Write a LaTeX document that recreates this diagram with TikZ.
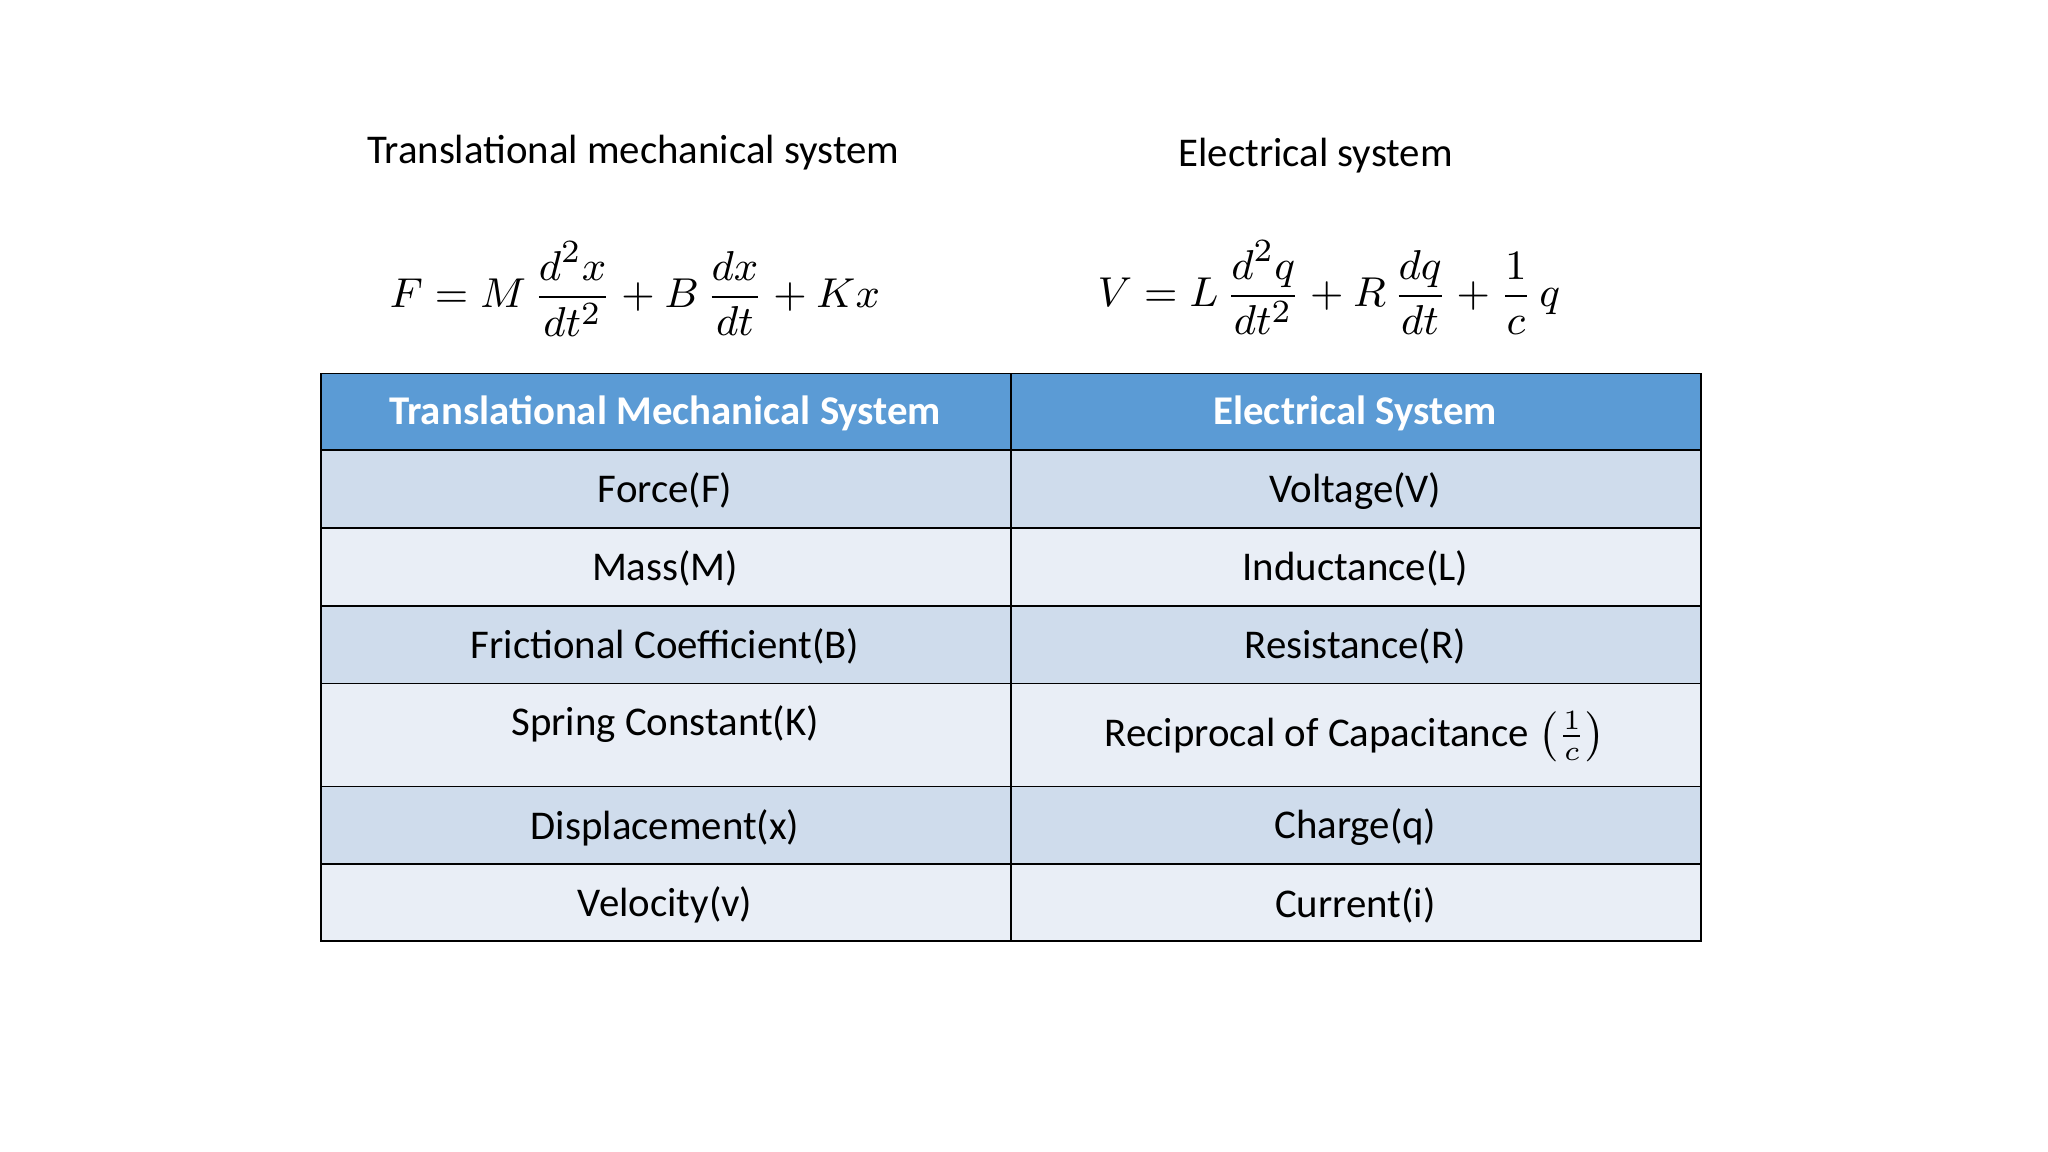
\documentclass[tikz,border=0pt]{standalone}
\usepackage{fontspec}
\setmainfont{Carlito}
\usepackage{amsmath}
\definecolor{hdr}{HTML}{5B9BD5}
\definecolor{rowA}{HTML}{CFDCEC}
\definecolor{rowB}{HTML}{E9EEF6}
\begin{document}
\begin{tikzpicture}[x=0.01cm,y=-0.01cm,
  cell/.style={font=\fontsize{8.8}{10}\selectfont},
  hcell/.style={font=\fontsize{8.8}{10}\selectfont\bfseries,text=white},
  ttl/.style={font=\fontsize{8.8}{10}\selectfont},
  eq/.style={font=\fontsize{9.5}{11}\selectfont}]
\useasboundingbox (0,0) rectangle (1552,873);
\node[ttl] (t1) at (480,116) {Translational mechanical system};
\node[ttl] (t2) at (997,118) {Electrical system};
\node[eq] (e1) at (481,219) {$F = M\,\dfrac{d^2x}{dt^2} + B\,\dfrac{dx}{dt} + Kx$};
\node[eq] (e2) at (1007,218) {$V = L\,\dfrac{d^2q}{dt^2} + R\,\dfrac{dq}{dt} + \dfrac{1}{c}\,q$};
\fill[hdr] (243,283) rectangle (1289,341);
\fill[rowA] (243,341) rectangle (1289,400);
\fill[rowB] (243,400) rectangle (1289,459);
\fill[rowA] (243,459) rectangle (1289,518);
\fill[rowB] (243,518) rectangle (1289,596);
\fill[rowA] (243,596) rectangle (1289,655);
\fill[rowB] (243,655) rectangle (1289,713);
\draw[line width=0.4pt] (243,283) rectangle (1289,713);
\draw[line width=0.4pt] (766,283) -- (766,713);
\foreach \y in {341,400,459,518,596,655} \draw[line width=0.4pt] (243,\y) -- (1289,\y);
\node[hcell] (h1) at (504,313) {Translational Mechanical System};
\node[hcell] (h2) at (1027,313) {Electrical System};
\node[cell] (a1) at (504,372) {Force(F)};
\node[cell] (b1) at (1027,372) {Voltage(V)};
\node[cell] (a2) at (504,431) {Mass(M)};
\node[cell] (b2) at (1027,431) {Inductance(L)};
\node[cell] (a3) at (504,490) {Frictional Coefficient(B)};
\node[cell] (b3) at (1027,490) {Resistance(R)};
\node[cell] (a4) at (504,549) {Spring Constant(K)};
\node[cell] (b4) at (1027,558) {Reciprocal of Capacitance $\left(\frac{1}{c}\right)$};
\node[cell] (a5) at (504,627) {Displacement(x)};
\node[cell] (b5) at (1027,627) {Charge(q)};
\node[cell] (a6) at (504,686) {Velocity(v)};
\node[cell] (b6) at (1027,686) {Current(i)};
\end{tikzpicture}
\end{document}
